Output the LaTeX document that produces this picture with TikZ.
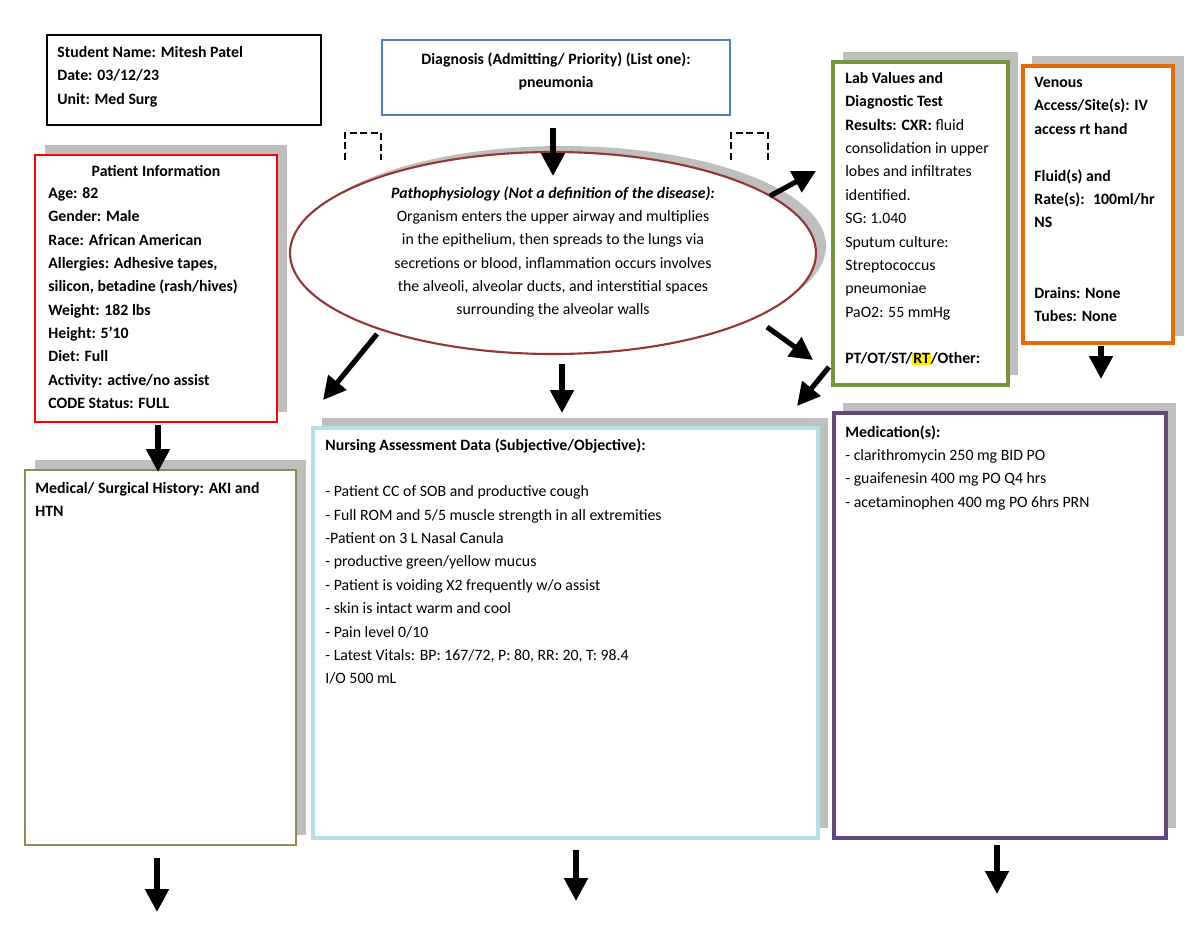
\documentclass[tikz,border=0pt]{standalone}
\usepackage{fontspec}
\setmainfont{Carlito}
\usetikzlibrary{arrows.meta,shapes.geometric}
\definecolor{olivebox}{HTML}{948A54}
\definecolor{bluebox}{HTML}{B7DDE8}
\definecolor{purplebox}{HTML}{604A7B}
\definecolor{greenbox}{HTML}{77933C}
\definecolor{orangebox}{HTML}{E36C09}
\definecolor{diagblue}{HTML}{4F81BD}
\definecolor{ellred}{HTML}{943634}
\definecolor{shad}{HTML}{BFBFBF}
\begin{document}
\begin{tikzpicture}[x=0.02cm,y=-0.02cm,
  txt/.style={anchor=north west,align=left,inner sep=0pt,font=\fontsize{9}{13.3}\selectfont},
  bigarrow/.style={line width=2.9pt,-{Triangle[length=13pt,width=13pt]}},
  box/.style={line width=1.4pt,fill=white},
  shadow/.style={fill=shad,draw=none}]
\useasboundingbox (0,0) rectangle (1200,927);
\fill[white] (0,0) rectangle (1200,927);

% Student box
\draw[line width=1.3pt] (47,35) rectangle (321,125);
\node[txt,font=\fontsize{9}{13.3}\selectfont\bfseries] (student) at (57,46) {Student Name: Mitesh Patel\\Date: 03/12/23\\Unit: Med Surg};

% Diagnosis
\draw[line width=1.4pt,draw=diagblue] (382,40) rectangle (730,115);
\node[anchor=north,align=center,inner sep=0pt,font=\fontsize{9}{13.3}\selectfont\bfseries] (diag) at (556,52) {Diagnosis (Admitting/ Priority) (List one):\\pneumonia};

% dashed brackets
\draw[line width=1pt,dash pattern=on 4pt off 2pt] (345,160) -- (345,133) -- (381,133) -- (381,160);
\draw[line width=1pt,dash pattern=on 4pt off 2pt] (731,160) -- (731,133) -- (768,133) -- (768,160);

% Ellipse
\fill[shad] (563,246) ellipse [x radius=263,y radius=100];
\draw[draw=ellred,line width=1.2pt,fill=white] (553,253) ellipse [x radius=263,y radius=101];
\node[anchor=north,align=center,inner sep=0pt,font=\fontsize{9}{13.3}\selectfont] (patho) at (553,186)
 {\textbf{\textit{Pathophysiology (Not a definition of the disease):}}\\Organism enters the upper airway and multiplies\\in the epithelium, then spreads to the lungs via\\secretions or blood, inflammation occurs involves\\the alveoli, alveolar ducts, and interstitial spaces\\surrounding the alveolar walls};

% Patient info
\fill[shadow] (45,145) rectangle (287,412);
\draw[box,draw=red] (35,155) rectangle (277,422);
\node[anchor=north,inner sep=0pt,font=\fontsize{9}{13.3}\selectfont\bfseries] (pititle) at (156,165) {Patient Information};
\node[txt,font=\fontsize{9}{13.3}\selectfont\bfseries] (pinfo) at (48,187) {Age: 82\\Gender: Male\\Race: African American\\Allergies: Adhesive tapes,\\silicon, betadine (rash/hives)\\Weight: 182 lbs\\Height: 5’10\\Diet: Full\\Activity: active/no assist\\CODE Status: FULL};

% Medical history
\fill[shadow] (35,460) rectangle (306,835);
\draw[box,draw=olivebox] (25,470) rectangle (296,845);
\node[txt,font=\fontsize{9}{13.3}\selectfont\bfseries] (medhist) at (35,482) {Medical/ Surgical History: AKI and\\HTN};

% Nursing
\fill[shadow] (322,418) rectangle (828,828);
\draw[box,draw=bluebox,line width=2pt] (313,428) rectangle (818,838);
\node[txt] (nurse) at (325,438) {\textbf{Nursing Assessment Data (Subjective/Objective):}\\[13.3pt]
- Patient CC of SOB and productive cough\\
- Full ROM and 5/5 muscle strength in all extremities\\
-Patient on 3 L Nasal Canula\\
- productive green/yellow mucus\\
- Patient is voiding X2 frequently w/o assist\\
- skin is intact warm and cool\\
- Pain level 0/10\\
- Latest Vitals: BP: 167/72, P: 80, RR: 20, T: 98.4\\
I/O 500 mL};

% Medication
\fill[shadow] (843,403) rectangle (1176,828);
\draw[box,draw=purplebox,line width=1.8pt] (834,413) rectangle (1166,838);
\node[txt] (meds) at (845,425) {\textbf{Medication(s):}\\
- clarithromycin 250 mg BID PO\\
- guaifenesin 400 mg PO Q4 hrs\\
- acetaminophen 400 mg PO 6hrs PRN};

% Lab
\fill[shadow] (843,52) rectangle (1018,375);
\draw[box,draw=greenbox,line width=1.8pt] (833,62) rectangle (1008,385);
\node[txt] (lab) at (845,72) {\textbf{Lab Values and}\\\textbf{Diagnostic Test}\\\textbf{Results: CXR:} fluid\\consolidation in upper\\lobes and infiltrates\\identified.\\SG: 1.040\\Sputum culture:\\Streptococcus\\pneumoniae\\PaO2: 55 mmHg\\[13.3pt]
\textbf{PT/OT/ST/{\setlength{\fboxsep}{0.5pt}\colorbox{yellow}{RT}}/Other:}};

% Venous
\fill[shadow] (1032,56) rectangle (1184,336);
\draw[box,draw=orangebox,line width=1.8pt] (1023,66) rectangle (1173,343);
\node[txt,font=\fontsize{9}{13.3}\selectfont\bfseries] (venous) at (1034,77) {Venous\\Access/Site(s): IV\\access rt hand\\[13.3pt]Fluid(s) and\\Rate(s):~ 100ml/hr\\NS\\[27pt]Drains: None\\Tubes: None};

% arrow endpoints
\coordinate (a1s) at (553,128); \coordinate (a1e) at (553,176);
\coordinate (a2s) at (770,196); \coordinate (a2e) at (816,171);
\coordinate (a3s) at (377,334); \coordinate (a3e) at (323,400);
\coordinate (a4s) at (562,364); \coordinate (a4e) at (562,413);
\coordinate (a5s) at (767,327); \coordinate (a5e) at (813,360);
\coordinate (a6s) at (829,367); \coordinate (a6e) at (797,406);
\coordinate (a7s) at (158,425); \coordinate (a7e) at (158,472);
\coordinate (a8s) at (1101,346); \coordinate (a8e) at (1101,379);
\coordinate (a9s) at (157,858); \coordinate (a9e) at (157,912);
\coordinate (a10s) at (576,850); \coordinate (a10e) at (576,901);
\coordinate (a11s) at (997,845); \coordinate (a11e) at (997,894);
\foreach \i in {1,...,11} \draw[bigarrow] (a\i s) -- (a\i e);
\end{tikzpicture}
\end{document}
